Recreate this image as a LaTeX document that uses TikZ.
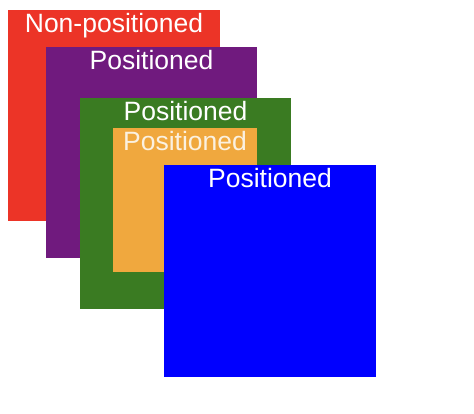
\documentclass[tikz,border=0pt]{standalone}
\usepackage{fontspec}
\setmainfont{Liberation Sans}
\definecolor{cred}{HTML}{EC3427}
\definecolor{cpurple}{HTML}{701A7E}
\definecolor{cgreen}{HTML}{3A7B22}
\definecolor{corange}{HTML}{F0A83E}
\definecolor{cblue}{HTML}{0000FF}
\definecolor{ccream}{HTML}{FBF1E0}
\begin{document}
\begin{tikzpicture}[x=1pt,y=-1pt,
  lbl/.style={anchor=base,inner sep=0pt,text=white,font=\fontsize{26.5}{30}\selectfont}]
\useasboundingbox (0,0) rectangle (474,414);
\fill[white] (0,0) rectangle (474,414);
% boxes
\fill[cred] (8,10) rectangle (220,221);
\node[lbl] (tred) at (114,33) {Non-positioned};
\fill[cpurple] (46,47) rectangle (257,258);
\node[lbl] (tpurple) at (151.5,70) {Positioned};
\fill[cgreen] (80,98) rectangle (291,309);
\node[lbl] (tgreen) at (185.5,121) {Positioned};
\fill[corange] (113,128) rectangle (257,272);
\node[lbl,text=ccream] (torange) at (185,151) {Positioned};
\fill[cblue] (164,165) rectangle (376,377);
\node[lbl] (tblue) at (270,188) {Positioned};
\end{tikzpicture}
\end{document}
